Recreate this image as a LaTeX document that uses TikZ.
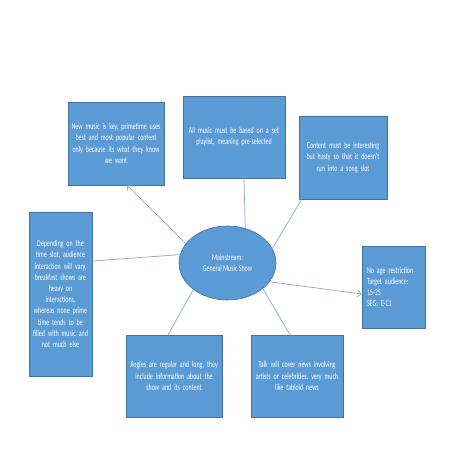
\documentclass[tikz,border=0pt]{standalone}
\usepackage{fontspec}
\setmainfont{Carlito}[FakeStretch=0.66]
\usetikzlibrary{positioning,shapes.geometric,arrows.meta}

\definecolor{boxblue}{HTML}{5B9BD5}
\definecolor{boxedge}{HTML}{41719C}
\definecolor{linkblue}{HTML}{8AA6C8}

\tikzset{
	idea/.style={draw=boxedge,fill=boxblue,text=white,align=center,
		inner xsep=2pt,inner ysep=0pt,line width=0.6pt,
		font=\fontsize{9pt}{11.2pt}\selectfont},
	hub/.style={idea,ellipse,inner sep=0pt},
	link/.style={draw=linkblue,line width=0.7pt},
	pointer/.style={-{Straight Barb[length=4pt,width=7pt]}}
}

\begin{document}
\begin{tikzpicture}[x=1pt,y=-1pt]
	\useasboundingbox (0,0) rectangle (452,452);
	% centre of the map
	\node[hub,minimum width=97pt,minimum height=74pt] (main) at (227.5,263) {Mainstream:\\ General Music Show};
	% boxes round it
	\node[idea,text width=92pt,minimum height=83pt] (key) at (116,143.5)
		{New music is key, primetime uses\\ best and most popular content\\ only because its what they know\\ we want};
	\node[idea,text width=98pt,minimum height=82pt] (playlist) at (234,137)
		{All music must be based on a set\\ playlist, meaning pre-selected};
	\node[idea,text width=84pt,minimum height=83pt] (content) at (343,157.5)
		{Content must be interesting\\ but hasty so that it doesn't\\ run into a song slot};
	\node[idea,text width=59pt,minimum height=164pt] (slot) at (60.5,294)
		{Depending on the\\ time slot, audience\\ interaction will vary,\\ breakfast shows are\\ heavy on\\ interactions,\\ whereas none prime\\ time tends to be\\ filled with music and\\ not much else};
	\node[idea,align=left,inner xsep=5pt,text width=53pt,minimum height=82pt] (target) at (393.5,287)
		{No age restriction\\ Target audience:\\ 15-25\\ SEG: E-C1};
	\node[idea,text width=92pt,minimum height=82pt] (jingles) at (174,376)
		{Jingles are regular and long, they\\ include information about the\\ show and its content};
	\node[idea,text width=88pt,minimum height=82pt] (talk) at (297,376)
		{Talk will cover news involving\\ artists or celebrities, very much\\ like tabloid news};

	\path[link]
	(main.155) edge[pointer] ([xshift=11pt]key.south)
	([xshift=10pt]playlist.south) edge (main.63)
	([xshift=3pt]content.south west) edge (main.18)
	([yshift=33pt]slot.east) edge (main.170)
	(main.-24) edge[pointer] ([yshift=-7pt]target.west)
	([xshift=-6pt]jingles.north) edge (main.218)
	([xshift=-7pt]talk.north) edge (main.-36);
\end{tikzpicture}
\end{document}
